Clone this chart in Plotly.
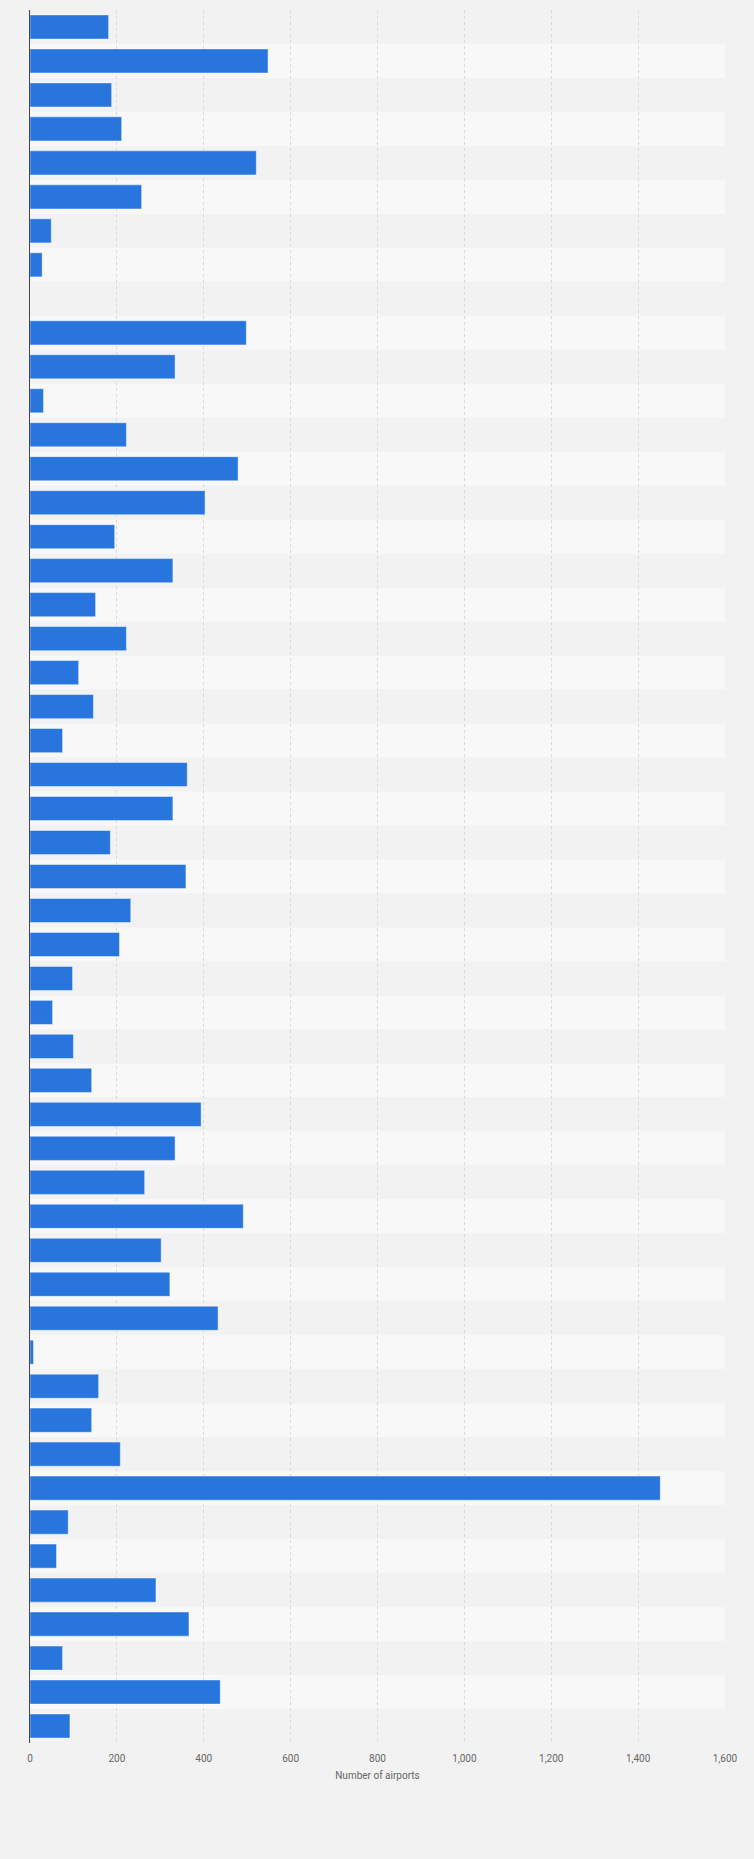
import plotly.graph_objects as go

states = ["Alabama", "Alaska", "Arizona", "Arkansas", "California", "Colorado", "Connecticut",
          "Delaware", "District of Columbia", "Florida", "Georgia", "Hawaii", "Idaho", "Illinois",
          "Indiana", "Iowa", "Kansas", "Kentucky", "Louisiana", "Maine", "Maryland",
          "Massachusetts", "Michigan", "Minnesota", "Mississippi", "Missouri", "Montana",
          "Nebraska", "Nevada", "New Hampshire", "New Jersey", "New Mexico", "New York",
          "North Carolina", "North Dakota", "Ohio", "Oklahoma", "Oregon", "Pennsylvania",
          "Rhode Island", "South Carolina", "South Dakota", "Tennessee", "Texas", "Utah",
          "Vermont", "Virginia", "Washington", "West Virginia", "Wisconsin", "Wyoming"]

airports = [181, 548, 188, 211, 521, 257, 49, 28, 0, 498, 334, 31, 222, 479, 403, 195, 329,
            151, 222, 112, 146, 75, 362, 329, 185, 359, 232, 206, 98, 52, 100, 142, 394, 334,
            264, 491, 302, 322, 433, 8, 158, 142, 208, 1451, 88, 61, 290, 366, 75, 438, 92]

x_ticks = [0, 200, 400, 600, 800, 1000, 1200, 1400, 1600]
x_tick_text = ["0", "200", "400", "600", "800", "1,000", "1,200", "1,400", "1,600"]

fig = go.Figure()
fig.add_trace(go.Bar(
    x=airports, y=states, orientation="h",
    marker=dict(color="#2876dd", line=dict(color="rgba(255,255,255,0.45)", width=1)),
    hoverinfo="x+y",
))

shapes = []
for i in range(len(states)):
    shapes.append(dict(type="rect", xref="paper", yref="y", x0=0, x1=1,
                       y0=i - 0.5, y1=i + 0.5, layer="below", line=dict(width=0),
                       fillcolor="#f2f2f2" if i % 2 == 0 else "#f8f8f8"))

fig.update_layout(
    width=754, height=1859,
    margin=dict(l=30, r=29, t=10, b=116),
    paper_bgcolor="#f2f2f2", plot_bgcolor="#f2f2f2",
    bargap=0.29, showlegend=False, shapes=shapes,
    font=dict(family="Roboto, Arial, sans-serif", size=10, color="#666666"),
)
fig.update_xaxes(
    range=[0, 1600], tickvals=x_ticks, ticktext=x_tick_text,
    showgrid=True, gridcolor="#d9d9d9", griddash="dot", gridwidth=1,
    zeroline=False, showline=False,
    ticks="outside", ticklen=6, tickcolor="rgba(0,0,0,0)",
    tickfont=dict(size=10, color="#666666"),
    title=dict(text="Number of airports", font=dict(size=10, color="#666666"), standoff=8),
)
fig.update_yaxes(
    autorange="reversed", showticklabels=False, showgrid=False, zeroline=False,
    showline=True, linecolor="#444444", linewidth=1, ticks="",
)

fig.write_html(
    "out.html",
    config={"displayModeBar": False},
    post_script="document.body.style.margin='0';document.body.style.padding='0';"
                "document.body.style.background='#f2f2f2';",
)
